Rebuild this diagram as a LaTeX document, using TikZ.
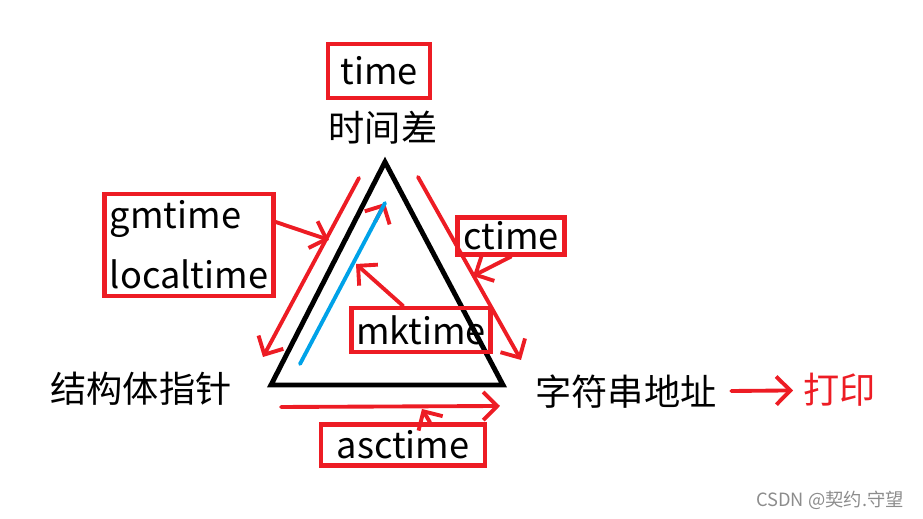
\documentclass[tikz,border=0pt]{standalone}
\usepackage{fontspec}
\setmainfont{Noto Sans CJK SC}
\usetikzlibrary{arrows.meta}
\definecolor{pred}{RGB}{237,28,36}
\definecolor{pblue}{RGB}{0,162,232}
\tikzset{
  rbox/.style={draw=pred,line width=1.2pt,inner sep=0pt,font=\fontsize{10.3}{17}\selectfont},
  lbl/.style={inner sep=0pt,font=\fontsize{10.3}{14}\selectfont},
  hand/.style={pred,line width=1.1pt,line cap=round,-{Straight Barb[length=4pt,width=8pt]}},
}
\def\dred{\draw[hand]}

\begin{document}
\begin{tikzpicture}[x=0.01cm,y=-0.01cm]
  \useasboundingbox (0,0) rectangle (923,519);
  % triangle
  \coordinate (apex) at (385,162);
  \coordinate (bl) at (271,385);
  \coordinate (br) at (503,385);
  \draw[line width=1.4pt,line join=miter] (apex) -- (bl) -- (br) -- cycle;
  % boxes and labels
  \node[rbox,minimum width=1.02cm,minimum height=0.54cm] (time) at (379,71) {time};
  \node[lbl] (diff) at (383,128) {时间差};
  \node[rbox,minimum width=1.69cm,minimum height=1.02cm,align=left] (gm) at (189,245) {gmtime\\localtime};
  \node[rbox,minimum width=1.07cm,minimum height=0.37cm] (ctime) at (511,236) {ctime};
  \node[rbox,minimum width=1.39cm,minimum height=0.44cm] (mk) at (421,330) {mktime};
  \node[rbox,minimum width=1.64cm,minimum height=0.41cm] (asc) at (403,445) {asctime};
  \node[lbl] (ptr) at (141,389) {结构体指针};
  \node[lbl] (addr) at (626,392) {字符串地址};
  \node[lbl,text=pred] (print) at (840,390) {打印};
  \node[inner sep=0pt,text=black!45,font=\fontsize{5.2}{6}\selectfont] (mark) at (830,500) {CSDN @契约.守望};
  % hand drawn arrows
  \coordinate (l1) at (359,178);
  \coordinate (l2) at (263,357);
  \coordinate (lh) at (329,240);
  \coordinate (r1) at (418,177);
  \coordinate (r2) at (521,360);
  \coordinate (rh) at (473,276);
  \coordinate (mh) at (356,264);
  \coordinate (b1) at (300,364);
  \coordinate (b2) at (385,203);
  \coordinate (b3) at (375,222);
  \coordinate (s1) at (281,407);
  \coordinate (s2) at (500,406);
  \coordinate (ah) at (422,409);
  \dred (l1) -- (l2);
  \dred (r1) -- (r2);
  \dred ([yshift=0.23cm]gm.east) -- (lh);
  \dred (ctime.south) -- (rh);
  \dred ([xshift=-0.18cm]mk.north) -- (mh);
  \dred (b3) -- (b2);
  \draw[pblue,line width=1.1pt,line cap=round] (b1) -- (b2);
  \dred (s1) -- (s2);
  \dred ([xshift=0.27cm]asc.north) -- (ah);
  \dred[shorten <=0.14cm,shorten >=0.1cm] (addr) -- (print);
\end{tikzpicture}
\end{document}
